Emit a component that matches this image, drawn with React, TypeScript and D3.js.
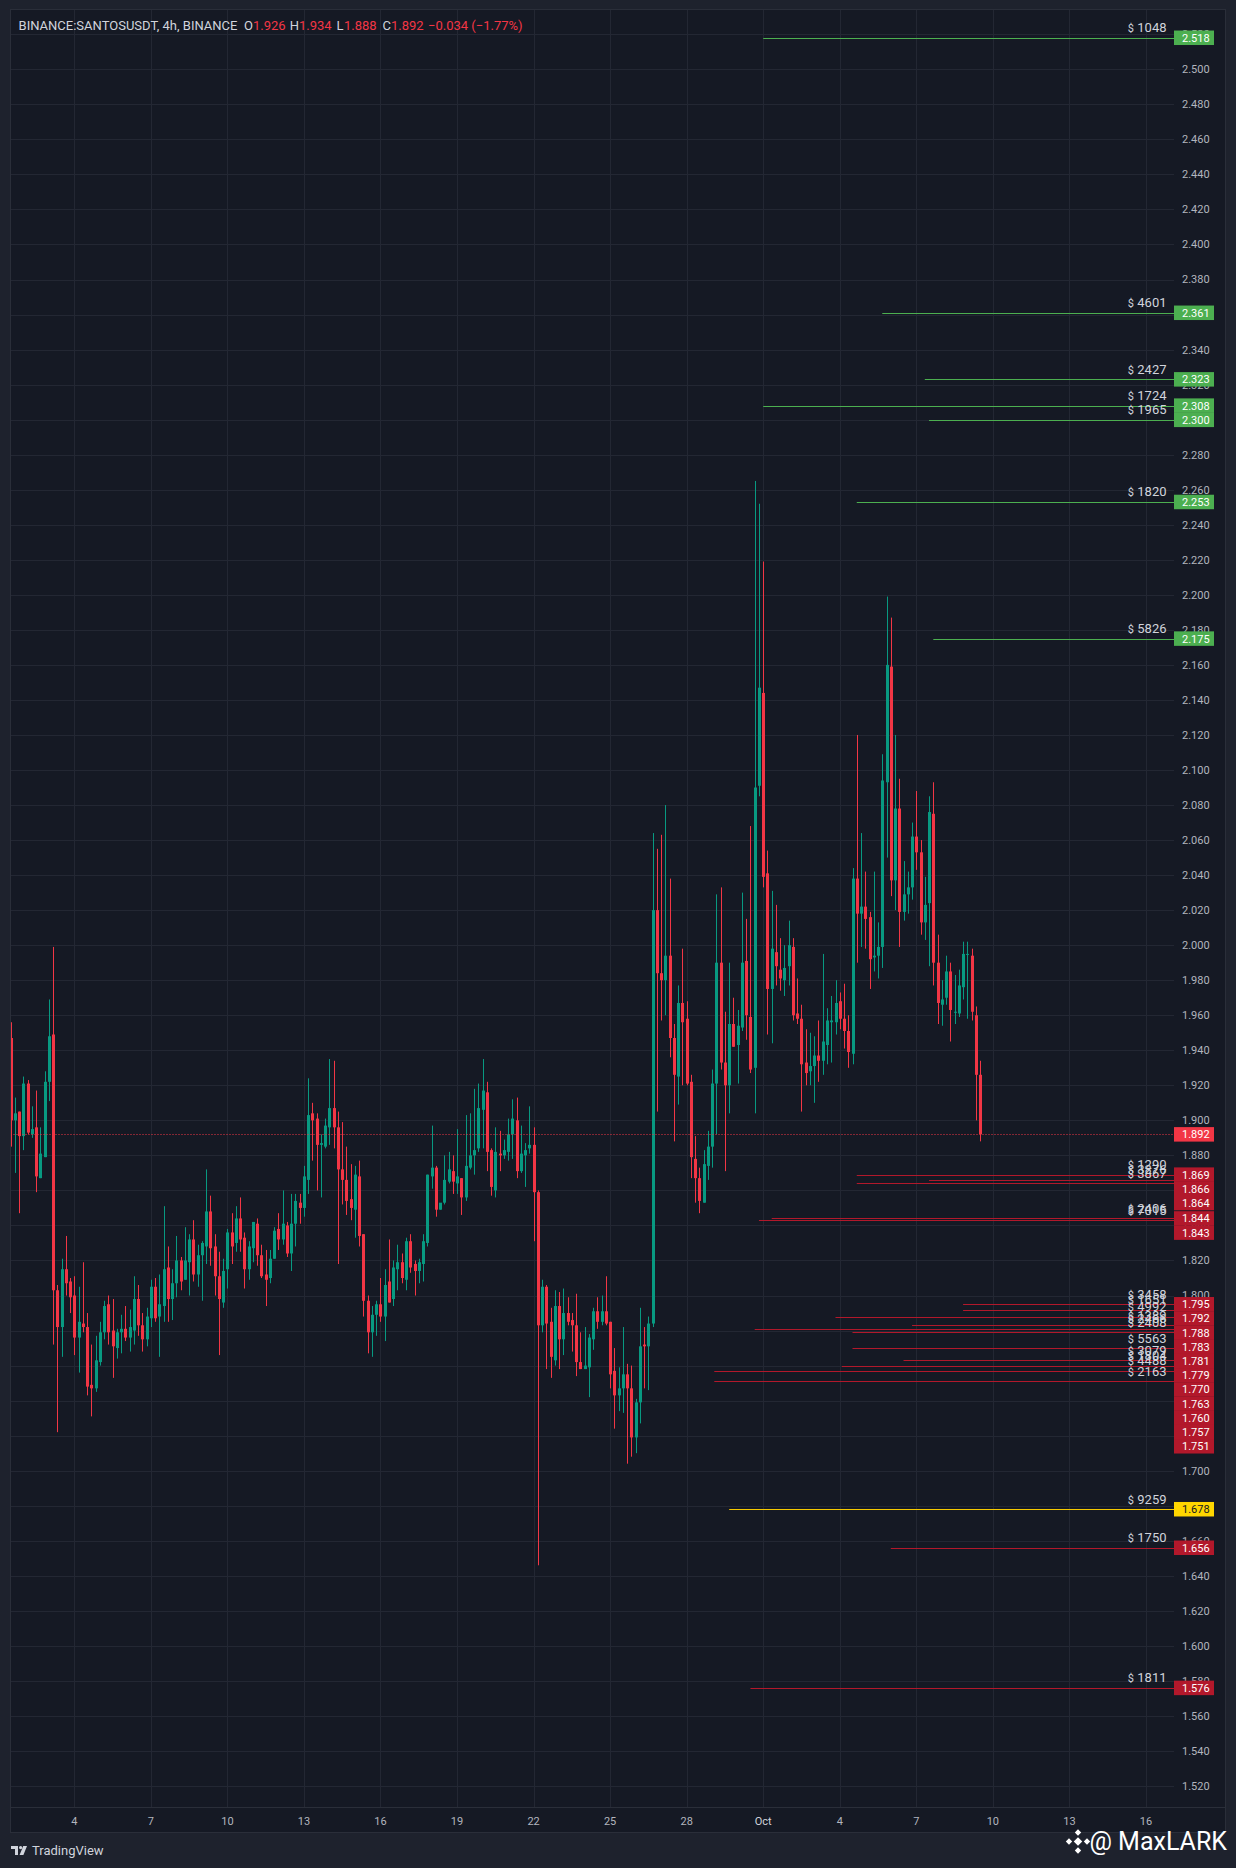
import * as d3 from "d3";

// 4h bars, first visible bar is 1 Sep 12:00 UTC
const FIRST_BAR = Date.UTC(2024, 8, 1, 12);
const BAR_MS = 4 * 60 * 60 * 1000;

const OPEN = [
  1.947, 1.900, 1.905, 1.891, 1.921, 1.892, 1.896, 1.867, 1.879, 1.922,
  1.949, 1.803, 1.782, 1.815, 1.808, 1.800, 1.776, 1.784, 1.782, 1.749,
  1.747, 1.762, 1.779, 1.795, 1.780, 1.770, 1.779, 1.781, 1.776, 1.780,
  1.798, 1.783, 1.775, 1.787, 1.805, 1.788, 1.794, 1.816, 1.798, 1.807,
  1.820, 1.809, 1.819, 1.832, 1.812, 1.823, 1.828, 1.848, 1.828, 1.811,
  1.796, 1.815, 1.836, 1.830, 1.844, 1.833, 1.815, 1.827, 1.841, 1.823,
  1.812, 1.810, 1.821, 1.838, 1.832, 1.840, 1.824, 1.841, 1.853, 1.850,
  1.866, 1.904, 1.901, 1.886, 1.885, 1.896, 1.907, 1.896, 1.872, 1.866,
  1.855, 1.849, 1.868, 1.835, 1.797, 1.779, 1.789, 1.795, 1.788, 1.808,
  1.798, 1.815, 1.819, 1.809, 1.831, 1.818, 1.814, 1.818, 1.830, 1.868,
  1.873, 1.849, 1.853, 1.865, 1.871, 1.864, 1.867, 1.856, 1.873, 1.880,
  1.884, 1.906, 1.916, 1.883, 1.860, 1.881, 1.880, 1.882, 1.892, 1.900,
  1.871, 1.880, 1.884, 1.886, 1.859, 1.783, 1.805, 1.785, 1.763, 1.794,
  1.775, 1.790, 1.786, 1.783, 1.762, 1.758, 1.759, 1.775, 1.791, 1.785,
  1.791, 1.785, 1.757, 1.743, 1.747, 1.755, 1.747, 1.719, 1.739, 1.772,
  1.771, 1.784, 2.020, 1.984, 1.980, 1.994, 1.947, 1.925, 1.967, 1.958,
  1.922, 1.878, 1.867, 1.853, 1.874, 1.885, 1.921, 1.990, 1.933, 1.920,
  1.955, 1.943, 1.953, 1.991, 1.959, 1.930, 2.091, 2.144, 2.041, 1.975,
  1.996, 1.986, 1.980, 1.988, 1.999, 1.961, 1.958, 1.933, 1.928, 1.931,
  1.937, 1.934, 1.943, 1.956, 1.956, 1.968, 1.958, 1.951, 1.938, 2.038,
  2.018, 2.022, 2.016, 1.993, 1.994, 1.999, 2.093, 2.159, 2.037, 2.078,
  2.019, 2.029, 2.033, 2.062, 2.053, 2.013, 2.024, 2.075, 1.990, 1.966,
  1.970, 1.985, 1.962, 1.961, 1.976, 1.995, 1.994, 1.960, 1.926,
];

const HIGH = [
  1.956, 1.913, 1.905, 1.925, 1.923, 1.908, 1.917, 1.896, 1.928, 1.969,
  1.999, 1.806, 1.821, 1.834, 1.810, 1.811, 1.805, 1.819, 1.790, 1.772,
  1.777, 1.785, 1.797, 1.800, 1.798, 1.781, 1.789, 1.794, 1.792, 1.811,
  1.806, 1.790, 1.793, 1.809, 1.810, 1.812, 1.851, 1.828, 1.815, 1.834,
  1.822, 1.839, 1.835, 1.843, 1.829, 1.831, 1.872, 1.857, 1.835, 1.825,
  1.821, 1.838, 1.847, 1.851, 1.856, 1.836, 1.831, 1.842, 1.844, 1.829,
  1.826, 1.826, 1.839, 1.847, 1.860, 1.842, 1.858, 1.858, 1.858, 1.874,
  1.924, 1.910, 1.904, 1.892, 1.901, 1.935, 1.934, 1.905, 1.899, 1.885,
  1.875, 1.874, 1.877, 1.835, 1.800, 1.794, 1.797, 1.810, 1.815, 1.832,
  1.820, 1.829, 1.824, 1.833, 1.835, 1.820, 1.821, 1.835, 1.869, 1.897,
  1.874, 1.852, 1.880, 1.882, 1.880, 1.895, 1.867, 1.903, 1.904, 1.918,
  1.921, 1.935, 1.922, 1.884, 1.896, 1.894, 1.889, 1.901, 1.912, 1.913,
  1.897, 1.887, 1.908, 1.896, 1.860, 1.809, 1.806, 1.793, 1.803, 1.802,
  1.804, 1.799, 1.790, 1.801, 1.779, 1.782, 1.778, 1.793, 1.799, 1.800,
  1.811, 1.785, 1.770, 1.759, 1.782, 1.761, 1.760, 1.741, 1.793, 1.782,
  1.788, 2.064, 2.055, 2.063, 2.080, 2.038, 1.955, 1.977, 1.998, 1.968,
  1.926, 1.891, 1.873, 1.883, 1.894, 1.929, 2.029, 2.033, 1.962, 1.990,
  1.970, 1.963, 2.030, 2.015, 2.068, 2.265, 2.252, 2.219, 2.054, 2.031,
  2.023, 2.004, 2.000, 2.014, 2.004, 1.981, 1.966, 1.952, 1.950, 1.948,
  1.957, 1.995, 1.964, 1.971, 1.980, 1.973, 1.978, 1.960, 2.044, 2.120,
  2.064, 2.042, 2.019, 2.042, 2.013, 2.109, 2.199, 2.187, 2.120, 2.095,
  2.048, 2.042, 2.070, 2.088, 2.060, 2.039, 2.085, 2.093, 2.006, 1.980,
  1.994, 1.990, 1.983, 1.986, 2.002, 2.002, 1.998, 1.965, 1.934,
];

const LOW = [
  1.885, 1.870, 1.847, 1.883, 1.892, 1.890, 1.859, 1.867, 1.879, 1.911,
  1.772, 1.722, 1.765, 1.800, 1.790, 1.766, 1.756, 1.779, 1.743, 1.731,
  1.745, 1.760, 1.775, 1.772, 1.753, 1.764, 1.767, 1.774, 1.768, 1.772,
  1.777, 1.768, 1.771, 1.782, 1.785, 1.765, 1.785, 1.785, 1.786, 1.799,
  1.803, 1.809, 1.800, 1.808, 1.805, 1.797, 1.818, 1.817, 1.800, 1.766,
  1.793, 1.804, 1.818, 1.825, 1.825, 1.804, 1.809, 1.819, 1.817, 1.810,
  1.794, 1.807, 1.821, 1.826, 1.829, 1.822, 1.814, 1.828, 1.841, 1.845,
  1.858, 1.877, 1.860, 1.856, 1.884, 1.886, 1.884, 1.818, 1.852, 1.846,
  1.843, 1.833, 1.828, 1.788, 1.767, 1.765, 1.777, 1.785, 1.774, 1.796,
  1.794, 1.803, 1.807, 1.803, 1.813, 1.800, 1.807, 1.808, 1.828, 1.861,
  1.845, 1.849, 1.852, 1.864, 1.858, 1.858, 1.846, 1.854, 1.872, 1.869,
  1.882, 1.884, 1.871, 1.857, 1.856, 1.871, 1.878, 1.877, 1.878, 1.867,
  1.870, 1.862, 1.881, 1.831, 1.646, 1.779, 1.758, 1.753, 1.760, 1.758,
  1.766, 1.783, 1.768, 1.754, 1.758, 1.758, 1.742, 1.769, 1.781, 1.783,
  1.783, 1.747, 1.724, 1.734, 1.733, 1.704, 1.708, 1.710, 1.727, 1.747,
  1.746, 1.782, 1.905, 1.957, 1.960, 1.936, 1.888, 1.909, 1.920, 1.920,
  1.867, 1.853, 1.847, 1.853, 1.866, 1.873, 1.892, 1.929, 1.871, 1.904,
  1.942, 1.921, 1.951, 1.946, 1.927, 1.904, 2.085, 2.033, 1.949, 1.944,
  1.977, 1.974, 1.971, 1.977, 1.957, 1.955, 1.905, 1.920, 1.920, 1.910,
  1.922, 1.926, 1.932, 1.933, 1.949, 1.952, 1.941, 1.930, 1.932, 1.990,
  1.999, 1.998, 1.975, 1.985, 1.981, 1.987, 2.050, 2.028, 2.020, 1.999,
  2.014, 2.018, 2.026, 2.043, 2.006, 2.003, 1.988, 1.977, 1.955, 1.954,
  1.966, 1.945, 1.955, 1.959, 1.969, 1.958, 1.957, 1.900, 1.888,
];

const CLOSE = [
  1.900, 1.904, 1.891, 1.921, 1.893, 1.895, 1.868, 1.881, 1.922, 1.948,
  1.803, 1.782, 1.815, 1.807, 1.799, 1.776, 1.785, 1.782, 1.748, 1.747,
  1.763, 1.779, 1.794, 1.779, 1.771, 1.779, 1.781, 1.776, 1.782, 1.798,
  1.783, 1.775, 1.788, 1.805, 1.787, 1.795, 1.815, 1.798, 1.807, 1.820,
  1.808, 1.820, 1.832, 1.812, 1.823, 1.830, 1.848, 1.827, 1.811, 1.798,
  1.814, 1.836, 1.828, 1.844, 1.832, 1.815, 1.828, 1.842, 1.823, 1.811,
  1.809, 1.821, 1.837, 1.832, 1.841, 1.824, 1.841, 1.854, 1.850, 1.868,
  1.903, 1.900, 1.886, 1.887, 1.897, 1.907, 1.896, 1.872, 1.866, 1.854,
  1.850, 1.869, 1.834, 1.797, 1.779, 1.789, 1.795, 1.788, 1.806, 1.796,
  1.816, 1.819, 1.810, 1.831, 1.816, 1.814, 1.819, 1.831, 1.869, 1.873,
  1.849, 1.853, 1.866, 1.872, 1.865, 1.868, 1.856, 1.874, 1.880, 1.883,
  1.907, 1.917, 1.882, 1.862, 1.882, 1.880, 1.883, 1.892, 1.901, 1.871,
  1.881, 1.883, 1.886, 1.859, 1.783, 1.805, 1.784, 1.765, 1.794, 1.775,
  1.790, 1.785, 1.783, 1.762, 1.758, 1.760, 1.776, 1.791, 1.785, 1.791,
  1.784, 1.755, 1.743, 1.747, 1.755, 1.747, 1.719, 1.739, 1.771, 1.771,
  1.784, 2.020, 1.984, 1.980, 1.994, 1.947, 1.926, 1.967, 1.956, 1.921,
  1.879, 1.867, 1.854, 1.875, 1.885, 1.921, 1.990, 1.933, 1.920, 1.955,
  1.942, 1.954, 1.990, 1.960, 1.929, 2.090, 2.147, 2.039, 1.975, 1.998,
  1.988, 1.981, 1.987, 2.000, 1.960, 1.958, 1.932, 1.927, 1.931, 1.937,
  1.934, 1.945, 1.957, 1.957, 1.967, 1.958, 1.951, 1.939, 2.038, 2.018,
  2.022, 2.015, 1.992, 1.994, 1.999, 2.094, 2.160, 2.037, 2.078, 2.019,
  2.029, 2.033, 2.062, 2.053, 2.013, 2.023, 2.076, 1.990, 1.967, 1.969,
  1.985, 1.963, 1.962, 1.977, 1.995, 1.995, 1.962, 1.926, 1.892,
];

// order levels drawn on the chart
const LEVEL_PRICE = [
  2.518, 2.361, 2.323, 2.308, 2.300, 2.253, 2.175,
  1.869, 1.866, 1.864, 1.844, 1.843,
  1.795, 1.792, 1.788, 1.783, 1.781, 1.779, 1.770, 1.763, 1.760, 1.757, 1.751,
  1.678, 1.656, 1.576,
];
const LEVEL_USD = [
  "1048", "4601", "2427", "1724", "1965", "1820", "5826",
  "1290", "3276", "3867", "2406", "7015",
  "3458", "1651", "4992", "1389", "2466", "2408", "5563", "3079", "1804", "4488", "2163",
  "9259", "1750", "1811",
];
const LEVEL_FROM = [
  "2024-10-01T00:00Z", "2024-10-05T16:00Z", "2024-10-07T08:00Z", "2024-10-01T00:00Z",
  "2024-10-07T12:00Z", "2024-10-04T16:00Z", "2024-10-07T16:00Z",
  "2024-10-04T16:00Z", "2024-10-07T12:00Z", "2024-10-04T16:00Z", "2024-10-01T08:00Z",
  "2024-09-30T20:00Z",
  "2024-10-08T20:00Z", "2024-10-08T20:00Z", "2024-10-03T20:00Z", "2024-10-06T20:00Z",
  "2024-09-30T16:00Z", "2024-10-04T12:00Z", "2024-10-04T12:00Z", "2024-10-06T12:00Z",
  "2024-10-04T02:00Z", "2024-09-29T02:00Z", "2024-09-29T02:00Z",
  "2024-09-29T16:00Z", "2024-10-06T00:00Z", "2024-09-30T12:00Z",
];

const W = 1236;
const H = 1868;
const left = 10.5;
const right = 1174;
const top = 9.5;
const bottom = 1807.5;
const frameRight = 1225.5;
const frameBottom = 1832.5;

const UP = "#089981";
const DOWN = "#f23645";
const BUY = "#4caf50";
const SELL = "#b2182b";
const BIG = "#ffd600";
const TEXT = "#d1d4dc";
const MUTED = "#b2b5be";
const GRID = "#232733";
const font = "Roboto, 'DejaVu Sans', sans-serif";

export default function App() {
  const x = d3
    .scaleUtc()
    .domain([new Date(Date.UTC(2024, 8, 4)), new Date(Date.UTC(2024, 9, 7))])
    .range([74.3, 916.3]);
  const y = d3.scaleLinear().domain([2.5, 1.52]).range([69.3, 1786]);

  const bars = CLOSE.map((c, i) => ({
    t: new Date(FIRST_BAR + i * BAR_MS),
    o: OPEN[i],
    h: HIGH[i],
    l: LOW[i],
    c,
  }));
  const last = bars[bars.length - 1];
  const prevClose = bars[bars.length - 2].c;
  const change = last.c - prevClose;

  const priceTicks = d3.ticks(y.invert(bottom), y.invert(top), 52);
  const timeTicks = d3.utcDay.every(3)!.range(x.invert(left), x.invert(right));
  const fmt = d3.format(".3f");
  const dayLabel = (d: Date) =>
    d3.utcMonth(d).getTime() === d.getTime() ? d3.utcFormat("%b")(d) : String(d.getUTCDate());

  const maxUsd = d3.max(LEVEL_USD, (v) => +v)!;
  const levels = LEVEL_PRICE.map((p, i) => ({
    p,
    usd: LEVEL_USD[i],
    from: new Date(LEVEL_FROM[i]),
    color: +LEVEL_USD[i] === maxUsd ? BIG : p > last.c ? BUY : SELL,
  }));

  // price tags on the axis, pushed down so they never overlap
  const tags = [
    ...levels.map((l) => ({ p: l.p, color: l.color, ink: l.color === BIG ? "#131722" : "#ffffff" })),
    { p: last.c, color: DOWN, ink: "#ffffff" },
  ].sort((a, b) => y(a.p) - y(b.p));
  let prevY = -Infinity;
  const placed = tags.map((t) => {
    const cy = Math.max(y(t.p), prevY + 14.2);
    prevY = cy;
    return { ...t, cy };
  });

  const crisp = (v: number) => Math.round(v) + 0.5;

  return (
    <svg
      width={W}
      height={H}
      viewBox={`0 0 ${W} ${H}`}
      style={{ position: "absolute", left: 0, top: 0, display: "block" }}
      fontFamily={font}
    >
      <defs>
        <clipPath id="plot">
          <rect x={left} y={top} width={right - left} height={bottom - top} />
        </clipPath>
      </defs>
      <rect width={W} height={H} fill="#1e222d" />
      <rect x={left} y={top} width={frameRight - left} height={frameBottom - top} fill="#151924" />

      {/* grid */}
      <g stroke={GRID} strokeWidth={1}>
        {priceTicks.map((p) => (
          <line key={p} x1={left} x2={right} y1={crisp(y(p))} y2={crisp(y(p))} />
        ))}
        {timeTicks.map((d) => (
          <line key={+d} x1={crisp(x(d))} x2={crisp(x(d))} y1={top} y2={bottom} />
        ))}
      </g>

      {/* candles */}
      <g clipPath="url(#plot)">
        {bars.map((b) => {
          const cx = Math.round(x(b.t));
          const color = b.c >= b.o ? UP : DOWN;
          const yTop = y(Math.max(b.o, b.c));
          const yBot = y(Math.min(b.o, b.c));
          return (
            <g key={+b.t} fill={color} stroke="none">
              <rect x={cx} y={y(b.h)} width={1} height={y(b.l) - y(b.h)} />
              <rect x={cx - 1} y={yTop} width={3} height={Math.max(1, yBot - yTop)} />
            </g>
          );
        })}
      </g>

      {/* level lines */}
      <g>
        {levels.map((l) => (
          <line
            key={l.p}
            x1={x(l.from)}
            x2={right}
            y1={crisp(y(l.p))}
            y2={crisp(y(l.p))}
            stroke={l.color === BIG ? "#f5c800" : l.color}
            strokeWidth={1}
          />
        ))}
      </g>
      <line
        x1={left}
        x2={right}
        y1={crisp(y(last.c))}
        y2={crisp(y(last.c))}
        stroke={DOWN}
        strokeWidth={1}
        strokeDasharray="1 2"
      />

      {/* level amounts */}
      <g fill={TEXT} fontSize={13} textAnchor="end">
        {levels.map((l) => (
          <text key={l.p} x={1166.5} y={y(l.p) - 5.5}>
            <tspan fontSize={11}>$</tspan> {l.usd}
          </text>
        ))}
      </g>

      {/* price axis */}
      <g fill={MUTED} fontSize={11}>
        {priceTicks.map((p) => (
          <text key={p} x={1182} y={y(p)} dy="0.36em">
            {fmt(p)}
          </text>
        ))}
      </g>
      <g fontSize={11}>
        {placed.map((t, i) => (
          <g key={i}>
            <rect x={right} y={t.cy - 7.25} width={40} height={14.5} fill={t.color} />
            <text x={1182} y={t.cy} dy="0.36em" fill={t.ink}>
              {fmt(t.p)}
            </text>
          </g>
        ))}
      </g>

      {/* time axis */}
      <line x1={left} x2={frameRight} y1={bottom} y2={bottom} stroke="#2a2e39" />
      <g fontSize={11} textAnchor="middle">
        {timeTicks.map((d) => (
          <text key={+d} x={x(d)} y={1824.5} fill={d.getUTCDate() === 1 ? TEXT : MUTED}>
            {dayLabel(d)}
          </text>
        ))}
      </g>
      <rect
        x={left}
        y={top}
        width={frameRight - left}
        height={frameBottom - top}
        fill="none"
        stroke="#2a2e39"
      />

      {/* legend */}
      <g fontSize={13}>
        <text x={18.6} y={30} fill={TEXT}>
          BINANCE:SANTOSUSDT, 4h, BINANCE
        </text>
        <text x={243.9} y={30} fill={TEXT}>O</text>
        <text x={253} y={30} fill={DOWN}>{fmt(last.o)}</text>
        <text x={289.7} y={30} fill={TEXT}>H</text>
        <text x={299} y={30} fill={DOWN}>{fmt(last.h)}</text>
        <text x={336.4} y={30} fill={TEXT}>L</text>
        <text x={344} y={30} fill={DOWN}>{fmt(last.l)}</text>
        <text x={382.6} y={30} fill={TEXT}>C</text>
        <text x={391} y={30} fill={DOWN}>{fmt(last.c)}</text>
        <text x={428} y={30} fill={DOWN}>
          {`${d3.format("+.3f")(change).replace("-", "−")} (${d3
            .format("+.2%")(change / prevClose)
            .replace("-", "−")})`}
        </text>
      </g>

      {/* footer */}
      <g transform="translate(11,1846)" fill={TEXT}>
        <path d="M0 0H7V9H4V3H0Z" />
        <circle cx={9.6} cy={1.6} r={1.6} />
        <path d="M12.2 0H16L12.4 9H8.6Z" />
      </g>
      <text x={32} y={1855} fontSize={13} fill={TEXT}>
        TradingView
      </text>
      <g transform="translate(1078,1841.5)" fill="#ffffff">
        {[
          [0, 0, 6],
          [0, -9, 4.5],
          [0, 9, 4.5],
          [-9, 0, 4.5],
          [9, 0, 4.5],
        ].map(([dx, dy, s], i) => (
          <rect key={i} x={dx - s / 2} y={dy - s / 2} width={s} height={s} transform={`rotate(45 ${dx} ${dy})`} />
        ))}
      </g>
      <text x={1227} y={1850} fontSize={25} fill="#ffffff" textAnchor="end">
        @ MaxLARK
      </text>
    </svg>
  );
}
